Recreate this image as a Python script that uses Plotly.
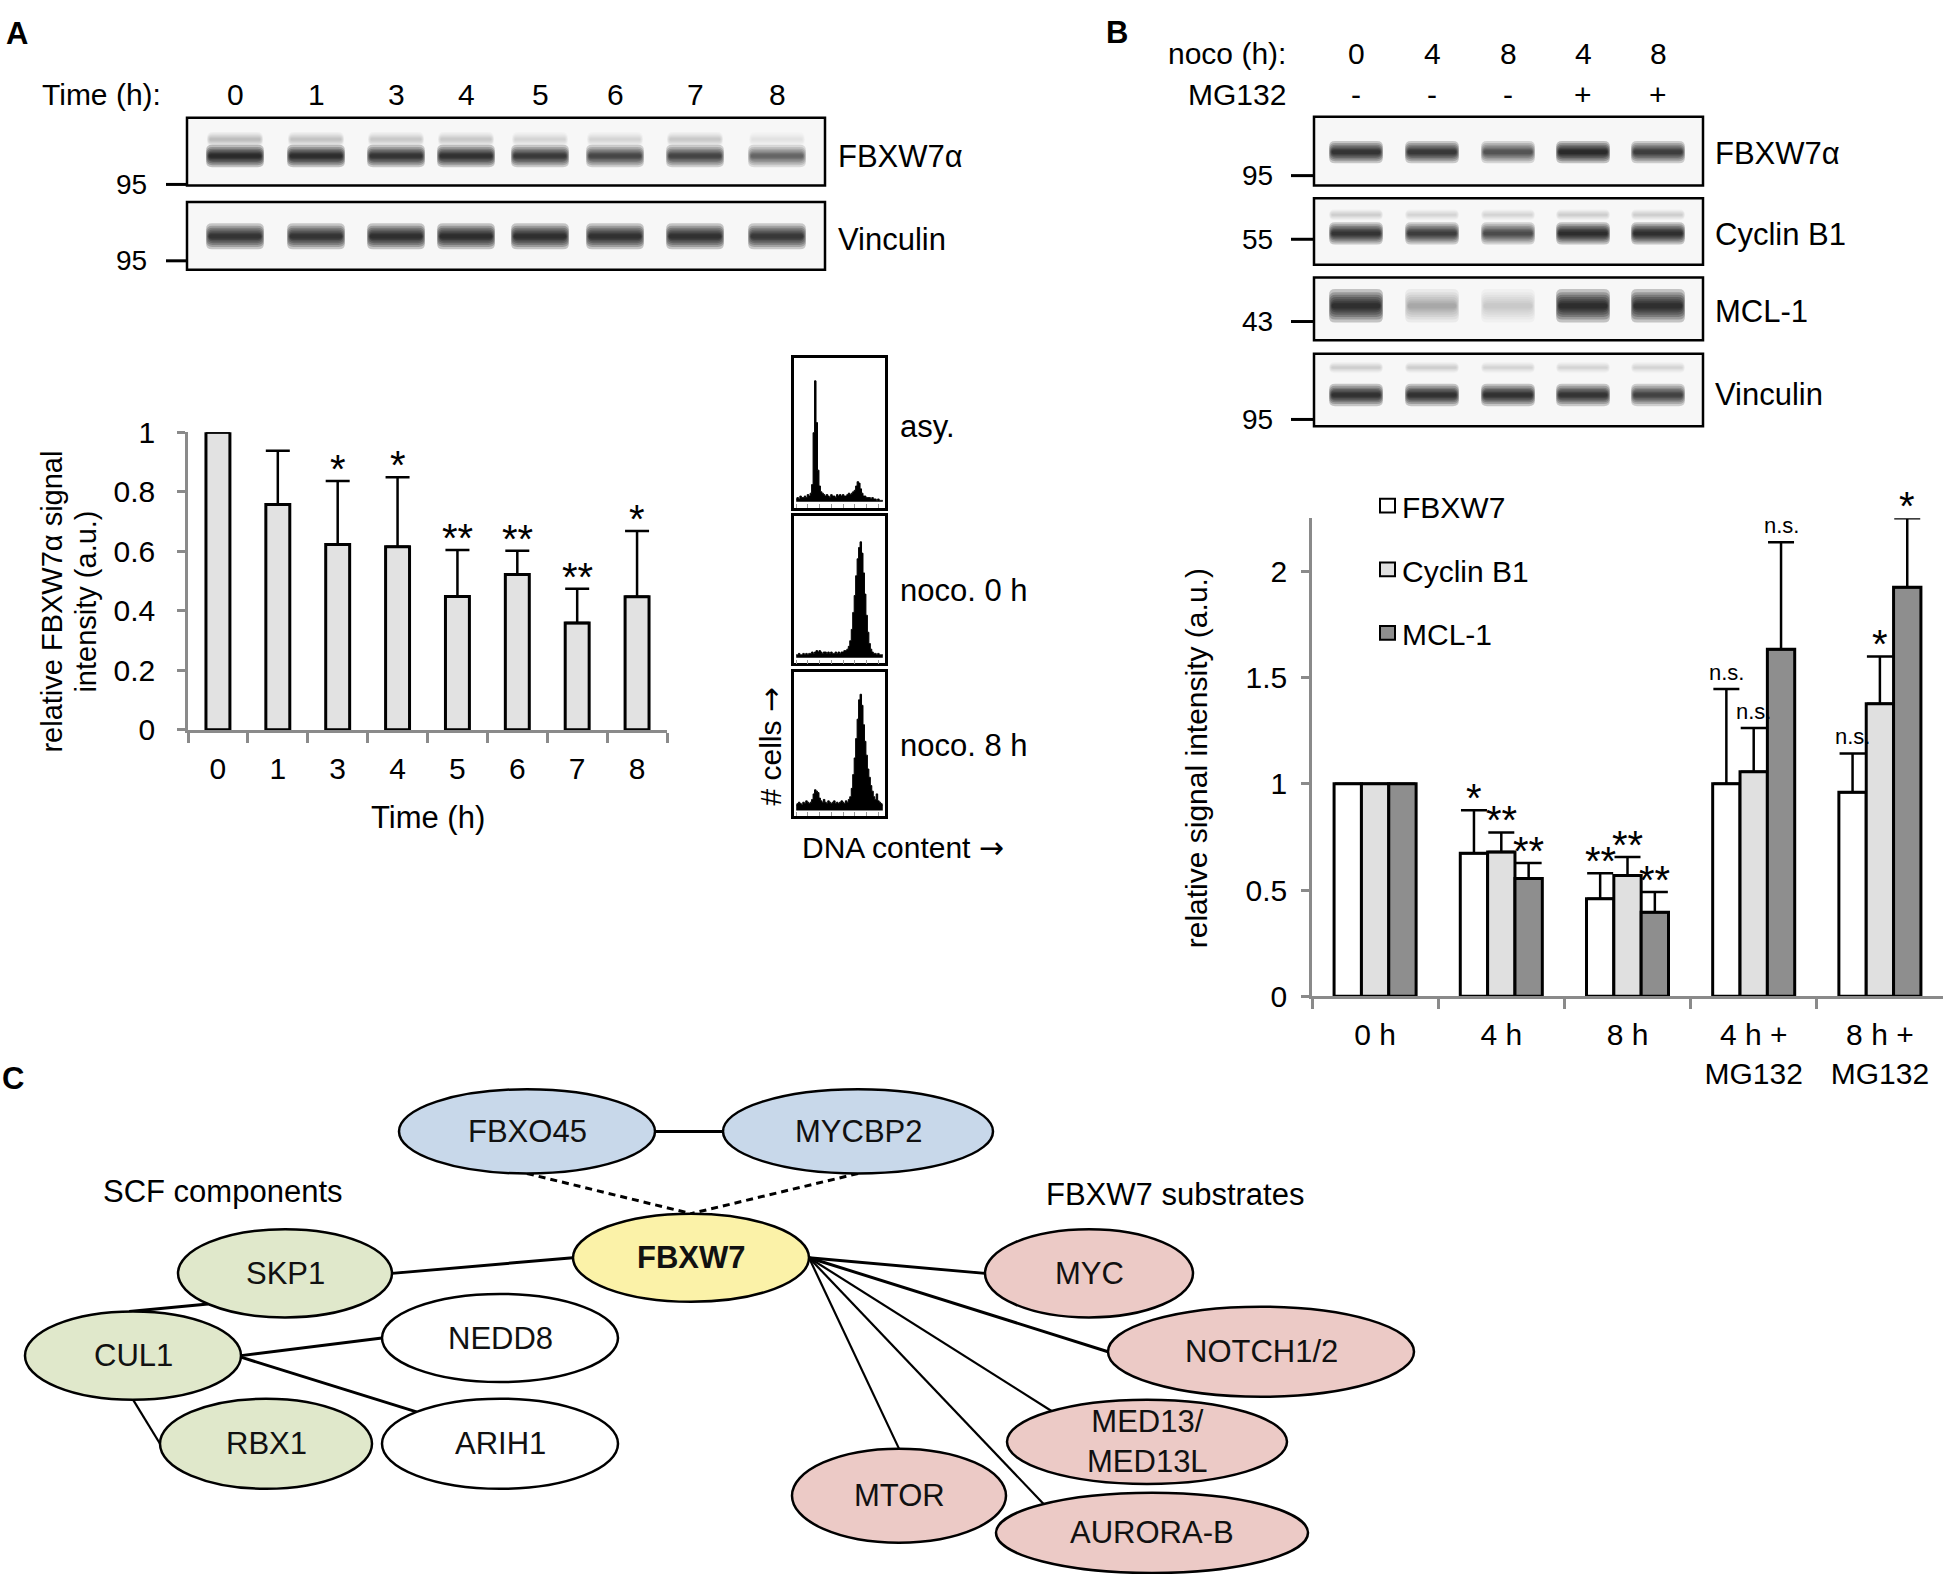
import math
import plotly.graph_objects as go

W, H = 1944, 1591
FONT = "Liberation Sans, Arial, sans-serif"
AXIS_GRAY = "#8a8a8a"
ARROW = '<span style="font-family:DejaVu Sans">\u2192</span>'

# ======================= DATA =======================
# ---- Panel A: FBXW7a quantification ----
time_labels = ["0", "1", "3", "4", "5", "6", "7", "8"]
fbxw7_rel = [1.0, 0.757, 0.623, 0.615, 0.448, 0.522, 0.359, 0.447]
fbxw7_err = [0.0, 0.181, 0.213, 0.234, 0.156, 0.080, 0.115, 0.221]
fbxw7_err_minus = [0, 0, 0, 0, 0, 0, 0, 0]
fbxw7_sig = ["", "", "*", "*", "**", "**", "**", "*"]
a_yticks = [0, 0.2, 0.4, 0.6, 0.8, 1]

# ---- Panel A: western blot (band darkness 0..1) ----
blotA_lanes = ["0", "1", "3", "4", "5", "6", "7", "8"]
blotA_fbxw7 = [0.95, 0.92, 0.86, 0.88, 0.80, 0.70, 0.72, 0.52]
blotA_fbxw7_upper = [0.16, 0.14, 0.12, 0.12, 0.08, 0.08, 0.12, 0.05]
blotA_vinculin = [0.86, 0.86, 0.90, 0.92, 0.90, 0.88, 0.88, 0.82]

# ---- Panel A: flow cytometry histograms (relative counts per channel) ----
hist_asy = [2, 3, 2, 4, 3, 3, 4, 3, 5, 4,
            6, 12, 48, 84, 55, 22, 11, 7, 6, 5,
            4, 5, 4, 3, 5, 4, 4, 3, 5, 4,
            5, 4, 5, 4, 4, 5, 6, 5, 6, 7,
            8, 11, 14, 13, 9, 6, 4, 4, 3, 3,
            3, 2, 3, 2, 2, 1, 2, 1, 1, 1]
hist_noco0 = [2, 2, 3, 2, 2, 3, 2, 3, 2, 3,
              3, 4, 3, 4, 5, 4, 5, 4, 3, 4,
              4, 3, 4, 3, 4, 3, 3, 4, 3, 4,
              3, 4, 4, 5, 5, 6, 8, 12, 20, 32,
              44, 58, 70, 78, 82, 74, 60, 45, 30, 18,
              10, 6, 4, 3, 3, 2, 3, 2, 2, 2]
hist_noco8 = [4, 5, 6, 5, 4, 6, 5, 7, 6, 5,
              6, 8, 12, 15, 14, 13, 9, 7, 6, 8,
              6, 5, 7, 6, 5, 6, 7, 5, 6, 5,
              6, 7, 6, 5, 7, 6, 8, 10, 16, 26,
              38, 52, 66, 80, 84, 76, 62, 50, 40, 30,
              24, 18, 14, 10, 8, 12, 7, 6, 5, 4]
hist_labels = ["asy.", "noco. 0 h", "noco. 8 h"]

# ---- Panel B: western blot ----
noco_h = ["0", "4", "8", "4", "8"]
mg132 = ["-", "-", "-", "+", "+"]
blotB_fbxw7 = [0.86, 0.82, 0.62, 0.95, 0.76]
blotB_cyclin = [0.86, 0.76, 0.66, 0.92, 0.90]
blotB_cyclin_upper = [0.10, 0.09, 0.08, 0.10, 0.10]
blotB_mcl1 = [0.90, 0.22, 0.12, 0.92, 0.90]
blotB_vinculin = [0.88, 0.88, 0.88, 0.86, 0.74]
blotB_vinculin_upper = [0.10, 0.10, 0.08, 0.08, 0.08]

# ---- Panel B: quantification ----
conditions = ["0 h", "4 h", "8 h", "4 h +<br>MG132", "8 h +<br>MG132"]
b_fbxw7 = [1.0, 0.673, 0.459, 1.0, 0.96]
b_fbxw7_err = [0.0, 0.203, 0.120, 0.446, 0.183]
b_cyclin = [1.0, 0.679, 0.568, 1.057, 1.377]
b_cyclin_err = [0.0, 0.092, 0.088, 0.206, 0.223]
b_mcl1 = [1.0, 0.554, 0.396, 1.634, 1.926]
b_mcl1_err = [0.0, 0.073, 0.095, 0.503, 0.324]
b_err_minus = [0, 0, 0, 0, 0]
b_fbxw7_sig = ["", "*", "**", "n.s.", "n.s."]
b_cyclin_sig = ["", "**", "**", "n.s.", "*"]
b_mcl1_sig = ["", "**", "**", "n.s.", "*"]
b_series = ["FBXW7", "Cyclin B1", "MCL-1"]
b_yticks = [0, 0.5, 1, 1.5, 2]

# ---- Panel C: interaction network ----
node_names = ["FBXO45", "MYCBP2", "FBXW7", "SKP1", "CUL1", "NEDD8", "RBX1",
              "ARIH1", "MYC", "NOTCH1/2", "MED13/<br>MED13L", "MTOR", "AURORA-B"]
node_group = ["partner", "partner", "hub", "scf", "scf", "other", "scf",
              "other", "substrate", "substrate", "substrate", "substrate", "substrate"]
edges = [("FBXO45", "MYCBP2", "solid"), ("FBXO45", "FBXW7", "dash"),
         ("MYCBP2", "FBXW7", "dash"), ("FBXW7", "SKP1", "solid"),
         ("SKP1", "CUL1", "solid"), ("CUL1", "NEDD8", "solid"),
         ("CUL1", "ARIH1", "solid"), ("CUL1", "RBX1", "thin"),
         ("FBXW7", "MYC", "solid"), ("FBXW7", "NOTCH1/2", "solid"),
         ("FBXW7", "MED13/<br>MED13L", "thin"), ("FBXW7", "AURORA-B", "thin"),
         ("FBXW7", "MTOR", "thin")]

# ======================= LAYOUT GEOMETRY (pixels) =======================
NODE_GEOM = {
    "FBXO45": (527, 1139, 128, 43), "MYCBP2": (858, 1139, 135, 43),
    "FBXW7": (691, 1268, 118, 45), "SKP1": (285, 1284, 107, 45),
    "CUL1": (133, 1368, 108, 45), "NEDD8": (500, 1350, 118, 45),
    "RBX1": (266, 1458, 106, 46), "ARIH1": (500, 1458, 118, 46),
    "MYC": (1089, 1284, 104, 45), "NOTCH1/2": (1261, 1364, 153, 46),
    "MED13/<br>MED13L": (1147, 1456, 140, 43), "MTOR": (899, 1511, 107, 48),
    "AURORA-B": (1152, 1549, 156, 41),
}
EDGE_ANG = [(0, 180), (90, -90), (90, -90), (180, 0), (136, -92), (0, 180),
            (2, -135), (90, 180), (0, 180), (0, 180), (0, -133), (0, -134), (0, -90)]
GROUP_COLOR = {"partner": "#c8d8ea", "hub": "#fbf2a8", "scf": "#e0e8cb",
               "other": "#ffffff", "substrate": "#eccac6"}

LANES_A = [235, 316, 396, 466, 540, 615, 695, 777]
LANES_B = [1356, 1432, 1508, 1583, 1658]
TXT = 31
STAR = 40

fig = go.Figure()
shapes = []
annots = []


def txt(x, y, text, size=TXT, xanchor="center", yanchor="middle", bold=False,
        angle=0, color="black"):
    annots.append(dict(x=x, y=y, xref="x3", yref="y3", text=("<b>%s</b>" % text) if bold else text,
                       showarrow=False, xanchor=xanchor, yanchor=yanchor, textangle=angle,
                       font=dict(family=FONT, size=size, color=color)))


def line(x0, y0, x1, y1, width=3, color="black", dash="solid"):
    shapes.append(dict(type="line", xref="x3", yref="y3", x0=x0, y0=y0, x1=x1, y1=y1,
                       line=dict(color=color, width=width, dash=dash)))


def rrect_path(x0, x1, y0, y1, rmax=6):
    r = min((y1 - y0) / 2, (x1 - x0) / 2, rmax)
    return ("M{a},{y0} L{b},{y0} Q{x1},{y0} {x1},{c} L{x1},{d} Q{x1},{y1} {b},{y1} "
            "L{a},{y1} Q{x0},{y1} {x0},{d} L{x0},{c} Q{x0},{y0} {a},{y0} Z").format(
        a=x0 + r, b=x1 - r, c=y0 + r, d=y1 - r, x0=x0, x1=x1, y0=y0, y1=y1)


BAND_LAYERS = [(1.0, 1.9), (0.99, 1.55), (0.98, 1.25), (0.96, 1.0), (0.94, 0.75), (0.92, 0.52), (0.9, 0.3)]


def band(cx, cy, w, h, d):
    # soft western-blot band built from stacked translucent rounded rectangles
    for ws, hs in BAND_LAYERS:
        shapes.append(dict(type="path", xref="x3", yref="y3",
                           path=rrect_path(cx - w * ws / 2, cx + w * ws / 2, cy - h * hs, cy + h * hs),
                           fillcolor="black", opacity=0.23 * d, line=dict(width=0)))


def blot_box(x0, y0, x1, y1):
    shapes.append(dict(type="rect", xref="x3", yref="y3", x0=x0, y0=y0, x1=x1, y1=y1,
                       fillcolor="#f7f7f7", line=dict(color="black", width=2.5), layer="below"))


def marker(xr, xd0, xd1, y, label):
    txt(xr, y, label, size=28, xanchor="right")
    line(xd0, y, xd1, y, width=3)


fig.add_trace(go.Scatter(x=[0], y=[0], xaxis="x3", yaxis="y3", mode="markers",
                         marker=dict(opacity=0), hoverinfo="skip", showlegend=False))

# ---------------- Panel A: bar chart ----------------
fig.add_trace(go.Bar(
    x=time_labels, y=fbxw7_rel, xaxis="x", yaxis="y", width=0.4,
    marker=dict(color="#e2e2e2", line=dict(color="black", width=3)),
    error_y=dict(type="data", array=fbxw7_err, arrayminus=fbxw7_err_minus, symmetric=False,
                 color="black", thickness=2.5, width=12),
    showlegend=False, cliponaxis=False, hoverinfo="skip"))
for i, (v, e, s) in enumerate(zip(fbxw7_rel, fbxw7_err, fbxw7_sig)):
    if s:
        annots.append(dict(x=i, y=v + e, xref="x", yref="y", text=s, showarrow=False,
                           yanchor="bottom", yshift=-12, font=dict(family=FONT, size=STAR, color="black")))

# ---------------- Panel B: grouped bars ----------------
b_vals = [b_fbxw7, b_cyclin, b_mcl1]
b_errs = [b_fbxw7_err, b_cyclin_err, b_mcl1_err]
b_sigs = [b_fbxw7_sig, b_cyclin_sig, b_mcl1_sig]
b_colors = ["#ffffff", "#e0e0e0", "#8e8e8e"]
BGAP = 0.35
for name, vals, errs, col in zip(b_series, b_vals, b_errs, b_colors):
    fig.add_trace(go.Bar(
        x=conditions, y=vals, name=name, xaxis="x2", yaxis="y2",
        marker=dict(color=col, line=dict(color="black", width=3)),
        error_y=dict(type="data", array=errs, arrayminus=b_err_minus, symmetric=False,
                     color="black", thickness=2.5, width=13),
        showlegend=False, cliponaxis=False, hoverinfo="skip"))
bw = (1 - BGAP) / 3
for k, (vals, errs, sigs) in enumerate(zip(b_vals, b_errs, b_sigs)):
    for i, (v, e, s) in enumerate(zip(vals, errs, sigs)):
        if s:
            small = s == "n.s."
            annots.append(dict(x=i + (k - 1) * bw, y=v + e, xref="x2", yref="y2", text=s,
                               showarrow=False, yanchor="bottom",
                               yshift=2 if small else -12,
                               font=dict(family=FONT, size=22 if small else STAR, color="black")))
for k, (name, col) in enumerate(zip(b_series, b_colors)):
    yc = [500, 565, 630][k]
    shapes.append(dict(type="rect", xref="x3", yref="y3", x0=1380, x1=1395, y0=yc - 7, y1=yc + 7,
                       fillcolor=col, line=dict(color="black", width=2)))
    txt(1400, yc + 2, name, size=30, xanchor="left")

# ---------------- flow histograms ----------------
hist_boxes = [(349, 502), (511, 661), (670, 817)]
for j, (data, (yt, yb)) in enumerate(zip([hist_asy, hist_noco0, hist_noco8], hist_boxes)):
    ax = j + 4
    fig.add_trace(go.Scatter(x=list(range(len(data))), y=data, xaxis="x%d" % ax, yaxis="y%d" % ax,
                             mode="lines", line=dict(color="black", width=1, shape="hvh"),
                             fill="tozeroy", fillcolor="black", showlegend=False, hoverinfo="skip"))
    txt(898, [419, 587, 745][j], hist_labels[j], size=TXT, xanchor="left")
txt(771, 746, "# cells " + ARROW, size=30, angle=-90)
txt(800, 849, "DNA content " + ARROW, size=30, xanchor="left")

# ---------------- western blots: Panel A ----------------
txt(17, 18, "A", size=31, bold=True)
txt(40, 80, "Time (h):", size=30, xanchor="left")
for xl, lab in zip(LANES_A, blotA_lanes):
    txt(xl, 80, lab, size=30)
blot_box(187, 104, 825, 173)
blot_box(187, 190, 825, 259)
for xl, d, du, dv in zip(LANES_A, blotA_fbxw7, blotA_fbxw7_upper, blotA_vinculin):
    band(xl, 126, 56, 4, du)
    band(xl, 143, 58, 6, d)
    band(xl, 225, 58, 7, dv)
marker(149, 166, 187, 172, "95")
marker(149, 166, 187, 250, "95")
txt(836, 143, "FBXW7\u03b1", size=TXT, xanchor="left")
txt(836, 228, "Vinculin", size=TXT, xanchor="left")

# ---------------- western blots: Panel B ----------------
txt(1117, 17, "B", size=31, bold=True)
txt(1288, 38, "noco (h):", size=30, xanchor="right")
txt(1288, 80, "MG132", size=30, xanchor="right")
for xl, h_, m_ in zip(LANES_B, noco_h, mg132):
    txt(xl, 38, h_, size=30)
    txt(xl, 80, m_, size=30)
blotB_rows = [(103, 173), (186, 254), (267, 331), (345, 419)]
for (y0, y1) in blotB_rows:
    blot_box(1314, y0, 1703, y1)
for xl, a, b, bu, c, v, vu in zip(LANES_B, blotB_fbxw7, blotB_cyclin, blotB_cyclin_upper,
                                  blotB_mcl1, blotB_vinculin, blotB_vinculin_upper):
    band(xl, 139, 54, 6, a)
    band(xl, 203, 54, 3, bu)
    band(xl, 222, 54, 6, b)
    band(xl, 296, 54, 9, c)
    band(xl, 359, 54, 3, vu)
    band(xl, 387, 54, 6, v)
for yv, lab in zip([163, 228, 312, 412], ["95", "55", "43", "95"]):
    marker(1275, 1291, 1314, yv, lab)
for yv, lab in zip([140, 223, 302, 387], ["FBXW7\u03b1", "Cyclin B1", "MCL-1", "Vinculin"]):
    txt(1713, yv, lab, size=TXT, xanchor="left")

# ---------------- Panel C: network ----------------
txt(13, 1085, "C", size=31, bold=True)
txt(223, 1200, "SCF components", size=TXT)
txt(1175, 1203, "FBXW7 substrates", size=TXT)


def anchor(name, ang):
    cx, cy, rx, ry = NODE_GEOM[name]
    t = math.radians(ang)
    return cx + rx * math.cos(t), cy + ry * math.sin(t)


for (a, b, style), (aa, ab) in zip(edges, EDGE_ANG):
    x0, y0 = anchor(a, aa)
    x1, y1 = anchor(b, ab)
    if style == "dash":
        line(x0, y0, x1, y1, width=3, dash="7px,5px")
    else:
        line(x0, y0, x1, y1, width=2.2 if style == "thin" else 3)
for name, grp in zip(node_names, node_group):
    cx, cy, rx, ry = NODE_GEOM[name]
    shapes.append(dict(type="circle", xref="x3", yref="y3", x0=cx - rx, x1=cx + rx,
                       y0=cy - ry, y1=cy + ry, fillcolor=GROUP_COLOR[grp],
                       line=dict(color="black", width=2.5)))
    txt(cx, cy, name, size=TXT, bold=(grp == "hub"), color="#111111")

# ======================= AXES =======================
tick_font = dict(family=FONT, size=30, color="black")
axis_common = dict(showline=True, linecolor=AXIS_GRAY, linewidth=2.5, ticks="outside",
                   tickcolor=AXIS_GRAY, tickwidth=2.5, showgrid=False, zeroline=False,
                   tickfont=tick_font, fixedrange=True)
layout = dict(
    width=W, height=H, margin=dict(l=0, r=0, t=0, b=0),
    paper_bgcolor="white", plot_bgcolor="rgba(0,0,0,0)",
    barmode="group", bargap=BGAP, bargroupgap=0, showlegend=False,
    font=dict(family=FONT, color="black"),
    xaxis=dict(domain=[188 / W, 667 / W], anchor="y", type="category", range=[-0.5, 7.5],
               tickson="boundaries", ticklen=10, ticklabelstandoff=10, **axis_common),
    yaxis=dict(domain=[1 - 729 / H, 1 - 425 / H], anchor="x", range=[0, 1], tickvals=a_yticks,
               ticklen=8, ticklabelstandoff=16, **axis_common),
    xaxis2=dict(domain=[1312 / W, 1943 / W], anchor="y2", type="category", range=[-0.5, 4.5],
                tickson="boundaries", ticklen=10, ticklabelstandoff=10, **axis_common),
    yaxis2=dict(domain=[1 - 1001 / H, 1 - 513 / H], anchor="x2", range=[0, 2.25],
                tickvals=b_yticks, ticklen=8, ticklabelstandoff=8, **axis_common),
    xaxis3=dict(domain=[0, 1], anchor="y3", range=[0, W], visible=False, fixedrange=True),
    yaxis3=dict(domain=[0, 1], anchor="x3", range=[H, 0], visible=False, fixedrange=True),
)
for j, (yt, yb) in enumerate(hist_boxes):
    ax = j + 4
    layout["xaxis%d" % ax] = dict(domain=[794 / W, 885 / W], anchor="y%d" % ax, range=[-1.5, 60.5],
                                  showline=True, mirror=True, linecolor="black", linewidth=2.5,
                                  ticks="inside", ticklen=4, tickcolor="#999999", dtick=8,
                                  showticklabels=False, showgrid=False, zeroline=False, fixedrange=True)
    layout["yaxis%d" % ax] = dict(domain=[1 - yb / H, 1 - yt / H], anchor="x%d" % ax, range=[-4, 100],
                                  showline=True, mirror=True, linecolor="black", linewidth=2.5,
                                  showticklabels=False, ticks="", showgrid=False, zeroline=False,
                                  fixedrange=True)

annots.append(dict(x=52, y=598, xref="x3", yref="y3", text="relative FBXW7\u03b1 signal", textangle=-90,
                   showarrow=False, font=dict(family=FONT, size=29, color="black")))
annots.append(dict(x=86, y=598, xref="x3", yref="y3", text="intensity (a.u.)", textangle=-90,
                   showarrow=False, font=dict(family=FONT, size=29, color="black")))
annots.append(dict(x=1196, y=758, xref="x3", yref="y3", text="relative signal intensity (a.u.)",
                   textangle=-90, showarrow=False, font=dict(family=FONT, size=30, color="black")))
annots.append(dict(x=428, y=818, xref="x3", yref="y3", text="Time (h)", showarrow=False,
                   font=dict(family=FONT, size=31, color="black")))

layout["shapes"] = shapes
layout["annotations"] = annots
fig.update_layout(**layout)
fig.write_html("out.html", config={"displayModeBar": False},
               post_script="document.body.style.margin='0px';document.body.style.overflow='hidden';")
